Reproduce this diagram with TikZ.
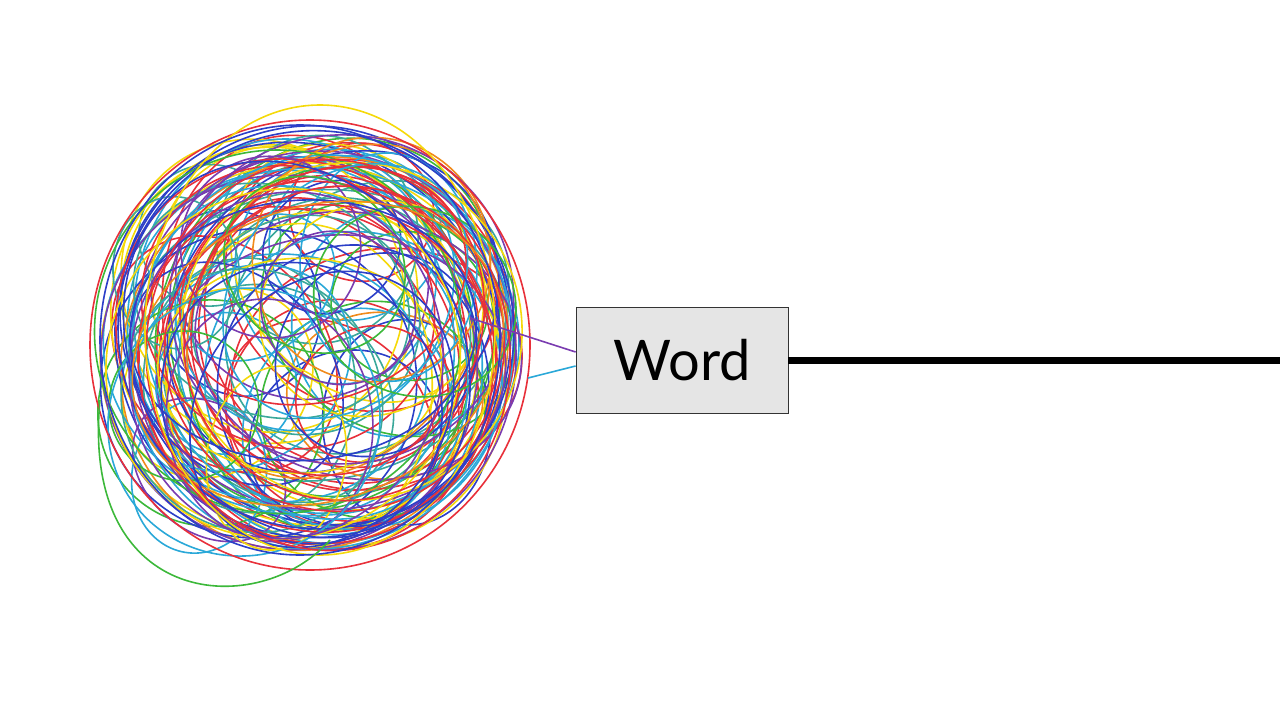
\documentclass[tikz,border=0pt]{standalone}
\usepackage{fontspec}
\setmainfont{Lato}
\definecolor{cR}{HTML}{E8303A}
\definecolor{cB}{HTML}{2C3FC8}
\definecolor{cY}{HTML}{F5D90A}
\definecolor{cG}{HTML}{3CB83A}
\definecolor{cO}{HTML}{F08A1C}
\definecolor{cC}{HTML}{2AA8D8}
\definecolor{cP}{HTML}{7A3CB0}
\definecolor{cT}{HTML}{3AA89A}
\tikzset{wordbox/.style={draw=black!80,fill=black!10,line width=0.8pt,minimum width=212pt,minimum height=106pt,inner sep=0pt,font=\fontsize{56}{60}\selectfont}}
\begin{document}
\begin{tikzpicture}[x=1pt,y=-1pt]
\useasboundingbox (0,0) rectangle (1280,720);
\pgfmathsetseed{11}
\foreach \i in {1,...,110}{
  \pgfmathsetmacro\rx{70+140*rnd}
  \pgfmathsetmacro\ry{\rx*(0.75+0.3*rnd)}
  \pgfmathsetmacro\off{215-\rx}
  \pgfmathsetmacro\cx{310+\off*rand}
  \pgfmathsetmacro\cy{345+\off*rand}
  \pgfmathsetmacro\ang{180*rnd}
  \pgfmathrandominteger\c{0}{8}
  \edef\col{\ifcase\c cR\or cB\or cY\or cG\or cO\or cC\or cP\or cT\or cR\fi}
  \draw[\col,line width=1.6pt,rotate around={\ang:(\cx,\cy)}] (\cx,\cy) ellipse ({\rx} and {\ry});
}
\draw[cR,line width=1.6pt] (310,345) ellipse (220 and 225);
\draw[cY,line width=1.6pt] (320,330) ellipse (175 and 225);
\draw[cB,line width=1.6pt] (300,340) ellipse (200 and 215);
\draw[cG,line width=1.6pt] (330,540) .. controls (260,620) and (80,610) .. (100,400);
\node[wordbox] (w) at (682,360) {Word};
\coordinate (p1) at (470,318);
\coordinate (p2) at (528,378);
\coordinate (e) at (1280,360);
\draw[cP,line width=1.6pt] (p1) -- (w.west |- 0,352);
\draw[cC,line width=1.6pt] (p2) -- (w.west |- 0,366);
\draw[line width=7pt] (w.east) -- (e);
\end{tikzpicture}
\end{document}
